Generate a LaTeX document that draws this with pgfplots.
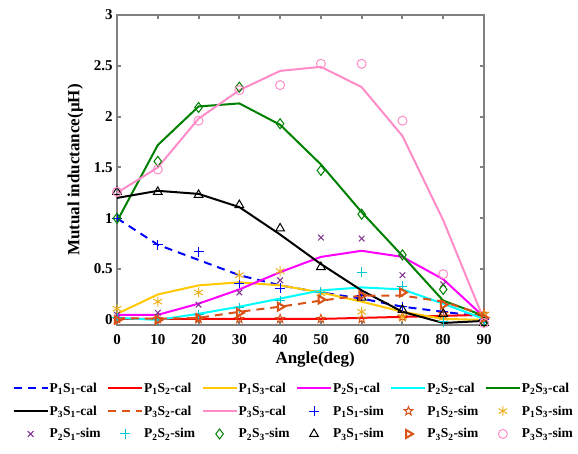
\documentclass[border=0pt]{standalone}
\usepackage{fontspec}
\setmainfont{Liberation Serif}
\usepackage{pgfplots}
\pgfplotsset{compat=1.18}
\definecolor{cBlue}{RGB}{0,0,255}
\definecolor{cRed}{RGB}{255,0,0}
\definecolor{cYel}{RGB}{255,200,0}
\definecolor{cMag}{RGB}{255,0,255}
\definecolor{cCya}{RGB}{0,255,255}
\definecolor{cGrn}{RGB}{0,128,0}
\definecolor{cOra}{RGB}{217,83,25}
\definecolor{cPnk}{RGB}{255,140,200}
\definecolor{cAst}{RGB}{237,177,32}
\definecolor{cPur}{RGB}{126,47,142}
\definecolor{cCyS}{RGB}{0,200,210}

\pgfdeclareplotmark{pentagram}{%
  \pgfpathmoveto{\pgfqpointpolar{90}{\pgfplotmarksize}}%
  \pgfpathlineto{\pgfqpointpolar{126}{0.42\pgfplotmarksize}}%
  \pgfpathlineto{\pgfqpointpolar{162}{\pgfplotmarksize}}%
  \pgfpathlineto{\pgfqpointpolar{198}{0.42\pgfplotmarksize}}%
  \pgfpathlineto{\pgfqpointpolar{234}{\pgfplotmarksize}}%
  \pgfpathlineto{\pgfqpointpolar{270}{0.42\pgfplotmarksize}}%
  \pgfpathlineto{\pgfqpointpolar{306}{\pgfplotmarksize}}%
  \pgfpathlineto{\pgfqpointpolar{342}{0.42\pgfplotmarksize}}%
  \pgfpathlineto{\pgfqpointpolar{18}{\pgfplotmarksize}}%
  \pgfpathlineto{\pgfqpointpolar{54}{0.42\pgfplotmarksize}}%
  \pgfpathclose\pgfusepathqstroke}

\begin{document}
\begin{tikzpicture}
\path[use as bounding box] (0pt,0pt) rectangle (578pt,454pt);
\begin{axis}[
    at={(117pt,129pt)}, anchor=south west,
    width=367pt, height=310pt, scale only axis,
    xmin=0, xmax=90, ymin=-0.05, ymax=3,
    xtick={0,10,...,90},
    ytick={0,0.5,1,1.5,2,2.5,3},
    tick align=inside,
    major tick length=4pt,
    axis line style={gray},
    every tick/.style={gray},
    tick label style={font=\fontsize{15}{18}\selectfont\bfseries},
    xticklabel style={yshift=-5pt},
    /pgf/number format/assume math mode=true,
    xlabel={Angle(deg)},
    ylabel={Mutual inductance(\textmu H)},
    label style={font=\fontsize{17}{20}\selectfont\bfseries},
    xlabel style={at={(axis description cs:0.54,-0.112)}, anchor=center},
    ylabel style={at={(axis description cs:-0.114,0.5)}, anchor=center},
    clip=false,
    legend columns=6,
    legend cell align=left,
    legend style={draw=none, fill=none, inner sep=0pt,
      at={(axis description cs:-0.287,-0.18)}, anchor=north west,
      font=\fontsize{13.5}{16}\selectfont\bfseries,
      nodes={inner xsep=1pt, inner ysep=1pt},
      row sep=10pt,
      /tikz/every even column/.append style={column sep=5.5pt}},
    legend image code/.code={%
      \draw[#1, mark repeat=2, mark phase=2] plot coordinates {(0pt,0pt) (17pt,0pt) (34pt,0pt)};},
    line width=2pt,
    mark options={solid, line width=1pt},
  ]
  % calculated
  \addplot[cBlue, dashed, dash pattern=on 8pt off 6pt] coordinates {(0,1.00) (10,0.74) (20,0.59) (30,0.44) (40,0.34) (50,0.27) (60,0.21) (70,0.13) (80,0.08) (90,0.03)};
  \addplot[cRed] coordinates {(0,0.01) (10,0.01) (20,0.01) (30,0.01) (40,0.01) (50,0.01) (60,0.02) (70,0.03) (80,0.04) (90,0.05)};
  \addplot[cYel] coordinates {(0,0.06) (10,0.25) (20,0.34) (30,0.37) (40,0.34) (50,0.27) (60,0.18) (70,0.08) (80,0.01) (90,0.00)};
  \addplot[cMag] coordinates {(0,0.05) (10,0.05) (20,0.16) (30,0.30) (40,0.47) (50,0.62) (60,0.68) (70,0.62) (80,0.40) (90,0.03)};
  \addplot[cCya] coordinates {(0,0.02) (10,0.00) (20,0.06) (30,0.13) (40,0.21) (50,0.29) (60,0.32) (70,0.30) (80,0.16) (90,0.01)};
  \addplot[cGrn] coordinates {(0,0.97) (10,1.72) (20,2.10) (30,2.13) (40,1.92) (50,1.53) (60,1.06) (70,0.63) (80,0.19) (90,0.04)};
  \addplot[black] coordinates {(0,1.20) (10,1.27) (20,1.24) (30,1.11) (40,0.84) (50,0.55) (60,0.29) (70,0.08) (80,-0.03) (90,-0.01)};
  \addplot[cOra, dashed, dash pattern=on 8pt off 6pt] coordinates {(0,0.02) (10,0.01) (20,0.02) (30,0.08) (40,0.13) (50,0.19) (60,0.24) (70,0.24) (80,0.18) (90,0.05)};
  \addplot[cPnk] coordinates {(0,1.25) (10,1.50) (20,1.98) (30,2.26) (40,2.45) (50,2.49) (60,2.29) (70,1.81) (80,0.98) (90,0.00)};
  % simulated
  \addplot[cBlue, only marks, mark=+, mark size=5pt] coordinates {(0,1.00) (10,0.74) (20,0.67) (30,0.36) (40,0.31) (50,0.27) (60,0.24) (70,0.13) (80,0.08) (90,0.00)};
  \addplot[cOra, only marks, mark=pentagram, mark size=4.5pt] coordinates {(0,0.01) (10,0.01) (20,0.01) (30,0.01) (40,0.01) (50,0.01) (60,0.01) (70,0.03) (80,0.06) (90,0.06)};
  \addplot[cAst, only marks, mark=asterisk, mark size=5pt] coordinates {(0,0.11) (10,0.18) (20,0.27) (30,0.44) (40,0.48) (50,0.26) (60,0.08) (70,0.03) (80,0.02) (90,0.05)};
  \addplot[cPur, only marks, mark=x, mark size=4pt] coordinates {(0,0.05) (10,0.07) (20,0.15) (30,0.27) (40,0.39) (50,0.81) (60,0.80) (70,0.44) (80,0.35) (90,0.00)};
  \addplot[cCyS, only marks, mark=+, mark size=5pt] coordinates {(0,0.02) (10,0.00) (20,0.05) (30,0.12) (40,0.19) (50,0.27) (60,0.47) (70,0.33) (80,-0.02) (90,-0.03)};
  \addplot[cGrn, only marks, mark=diamond, mark size=5pt] coordinates {(0,1.00) (10,1.56) (20,2.09) (30,2.29) (40,1.93) (50,1.47) (60,1.04) (70,0.64) (80,0.30) (90,-0.02)};
  \addplot[black, only marks, mark=triangle, mark size=5pt] coordinates {(0,1.26) (10,1.26) (20,1.23) (30,1.13) (40,0.90) (50,0.52) (60,0.22) (70,0.10) (80,0.06) (90,-0.03)};
  \addplot[cOra, only marks, mark=triangle, mark size=4.5pt, mark options={rotate=-90}] coordinates {(0,0.00) (10,0.00) (20,0.02) (30,0.07) (40,0.13) (50,0.20) (60,0.24) (70,0.27) (80,0.15) (90,0.02)};
  \addplot[cPnk, only marks, mark=o, mark size=4.5pt] coordinates {(0,1.26) (10,1.48) (20,1.96) (30,2.26) (40,2.31) (50,2.52) (60,2.52) (70,1.96) (80,0.45) (90,-0.03)};
  \legend{P\textsubscript{1}S\textsubscript{1}-cal, P\textsubscript{1}S\textsubscript{2}-cal, P\textsubscript{1}S\textsubscript{3}-cal,
          P\textsubscript{2}S\textsubscript{1}-cal, P\textsubscript{2}S\textsubscript{2}-cal, P\textsubscript{2}S\textsubscript{3}-cal,
          P\textsubscript{3}S\textsubscript{1}-cal, P\textsubscript{3}S\textsubscript{2}-cal, P\textsubscript{3}S\textsubscript{3}-cal,
          P\textsubscript{1}S\textsubscript{1}-sim, P\textsubscript{1}S\textsubscript{2}-sim, P\textsubscript{1}S\textsubscript{3}-sim,
          P\textsubscript{2}S\textsubscript{1}-sim, P\textsubscript{2}S\textsubscript{2}-sim, P\textsubscript{2}S\textsubscript{3}-sim,
          P\textsubscript{3}S\textsubscript{1}-sim, P\textsubscript{3}S\textsubscript{2}-sim, P\textsubscript{3}S\textsubscript{3}-sim}
\end{axis}
\end{tikzpicture}
\end{document}
